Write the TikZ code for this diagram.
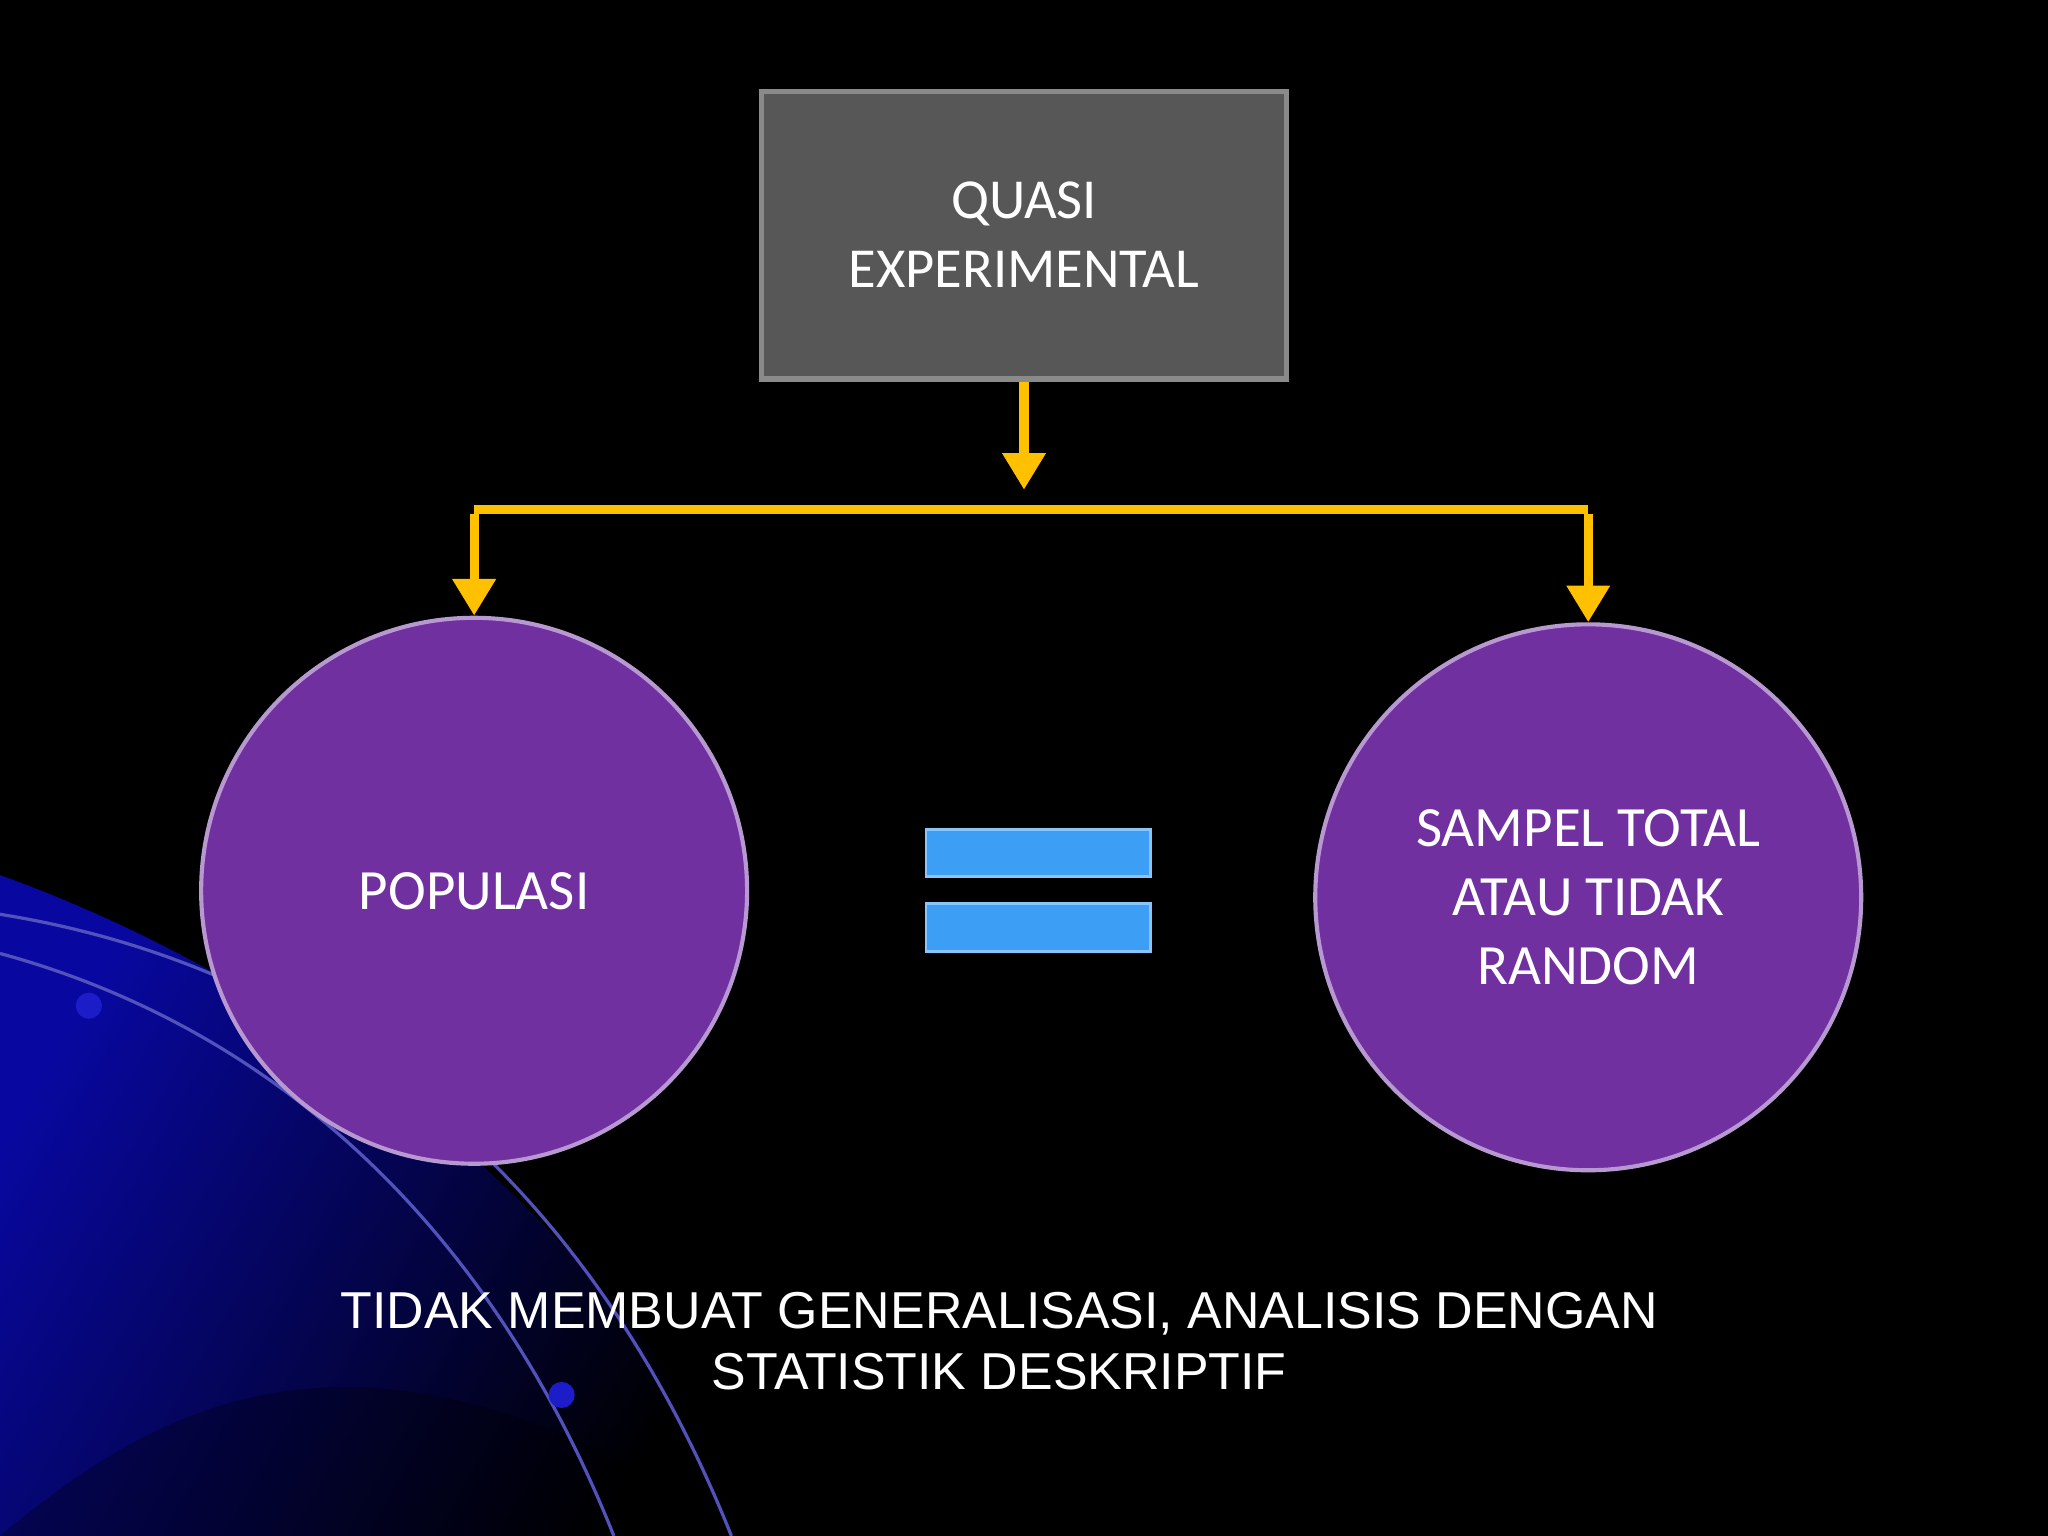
\documentclass[tikz,border=0pt]{standalone}
\usepackage{fontspec}
\setmainfont{Carlito}
\newfontfamily\arialf{Liberation Sans}
\usetikzlibrary{arrows.meta}
\definecolor{boxgray}{HTML}{575757}
\definecolor{boxedge}{HTML}{8A8A8A}
\definecolor{orng}{HTML}{FFC000}
\definecolor{purp}{HTML}{7030A0}
\definecolor{purpedge}{HTML}{B898D0}
\definecolor{eqblue}{HTML}{3C9EF5}
\definecolor{deepblue}{HTML}{0808A0}
\definecolor{dotblue}{HTML}{1C1CC8}
\tikzset{
  conn/.style={draw=orng, line width=2pt},
  arr/.style={conn, -{Triangle[length=8pt,width=9pt]}},
  circ/.style={circle, fill=purp, draw=purpedge, line width=0.9pt, minimum size=418*0.01cm, inner sep=0pt, text=white, font=\fontsize{12.4}{15}\selectfont, align=center},
  eqbar/.style={fill=eqblue, draw=eqblue!60!white, line width=0.6pt}
}
\begin{document}
\begin{tikzpicture}[x=0.01cm,y=-0.01cm]
\fill[black] (0,0) rectangle (1568,1176);
\useasboundingbox (0,0) rectangle (1568,1176);
\begin{scope}
\clip (0,0) rectangle (1568,1176);
\fill[left color=deepblue, right color=black, shading angle=60] (0,670) .. controls (250,760) and (480,950) .. (580,1176) -- (0,1176) -- cycle;
\fill[black, opacity=0.3] (0,1176) .. controls (150,1050) and (300,1000) .. (580,1176) -- cycle;
\draw[deepblue!70, line width=0.7pt] (0,700) .. controls (250,740) and (450,900) .. (560,1176);
\draw[deepblue!70, line width=0.7pt] (0,730) .. controls (220,790) and (380,950) .. (470,1176);
\fill[dotblue] (68,770) circle (10);
\fill[dotblue] (430,1068) circle (10);
\end{scope}
\node[draw=boxedge, line width=1.2pt, fill=boxgray, minimum width=402*0.01cm, minimum height=220*0.01cm, text=white, align=center, font=\fontsize{12.3}{15}\selectfont] (top) at (784,180) {QUASI\\EXPERIMENTAL};
\coordinate (mid) at (784,375);
\coordinate (jl) at (363,390);
\coordinate (jr) at (1216,390);
\node[circ] (pop) at (363,682) {POPULASI};
\node[circ] (samp) at (1216,687) {SAMPEL TOTAL\\ATAU TIDAK\\RANDOM};
\draw[arr] (top.south) -- (mid);
\draw[conn] (784,390) -- (jl);
\draw[conn] (784,390) -- (jr);
\draw[arr] ([yshift=-1pt]jl) -- (pop.north);
\draw[arr] ([yshift=-1pt]jr) -- (samp.north);
\node[eqbar, minimum width=172*0.01cm, minimum height=36*0.01cm, inner sep=0pt] (eq1) at (795,653) {};
\node[eqbar, minimum width=172*0.01cm, minimum height=37*0.01cm, inner sep=0pt] (eq2) at (795,710) {};
\node[text=white, align=center, font=\arialf\fontsize{11.3}{13.3}\selectfont] (cap) at (765,1027) {TIDAK MEMBUAT GENERALISASI, ANALISIS DENGAN\\STATISTIK DESKRIPTIF};
\end{tikzpicture}
\end{document}
